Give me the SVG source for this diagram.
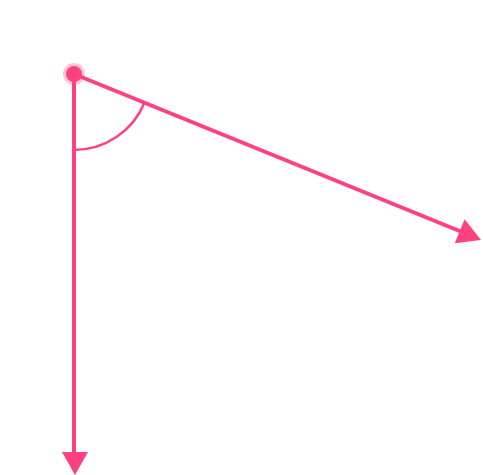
<svg xmlns="http://www.w3.org/2000/svg" width="483" height="475" viewBox="0 0 483 475">
<style>
.ray{stroke:#ff4081;stroke-width:4;fill:none}
.arc{stroke:#ff4081;stroke-width:2.5;fill:none}
.head{fill:#ff4081}
</style>
<rect width="483" height="475" fill="#ffffff"/>
<g id="connectors">
<line class="ray" x1="74" y1="74" x2="74" y2="455"/>
<polygon class="head" points="75,475 62,452 88,452"/>
<line class="ray" x1="74" y1="74" x2="462" y2="232"/>
<polygon class="head" points="481,240 454.8,243.3 464.6,219.3"/>
<path class="arc" d="M74,150 A76,76 0 0 0 144.4,102.7"/>
</g>
<g id="vertex">
<circle cx="74" cy="74" r="11" fill="#ff4081" opacity="0.3"/>
<circle cx="74" cy="74" r="8" fill="#ff4081"/>
</g>
</svg>
